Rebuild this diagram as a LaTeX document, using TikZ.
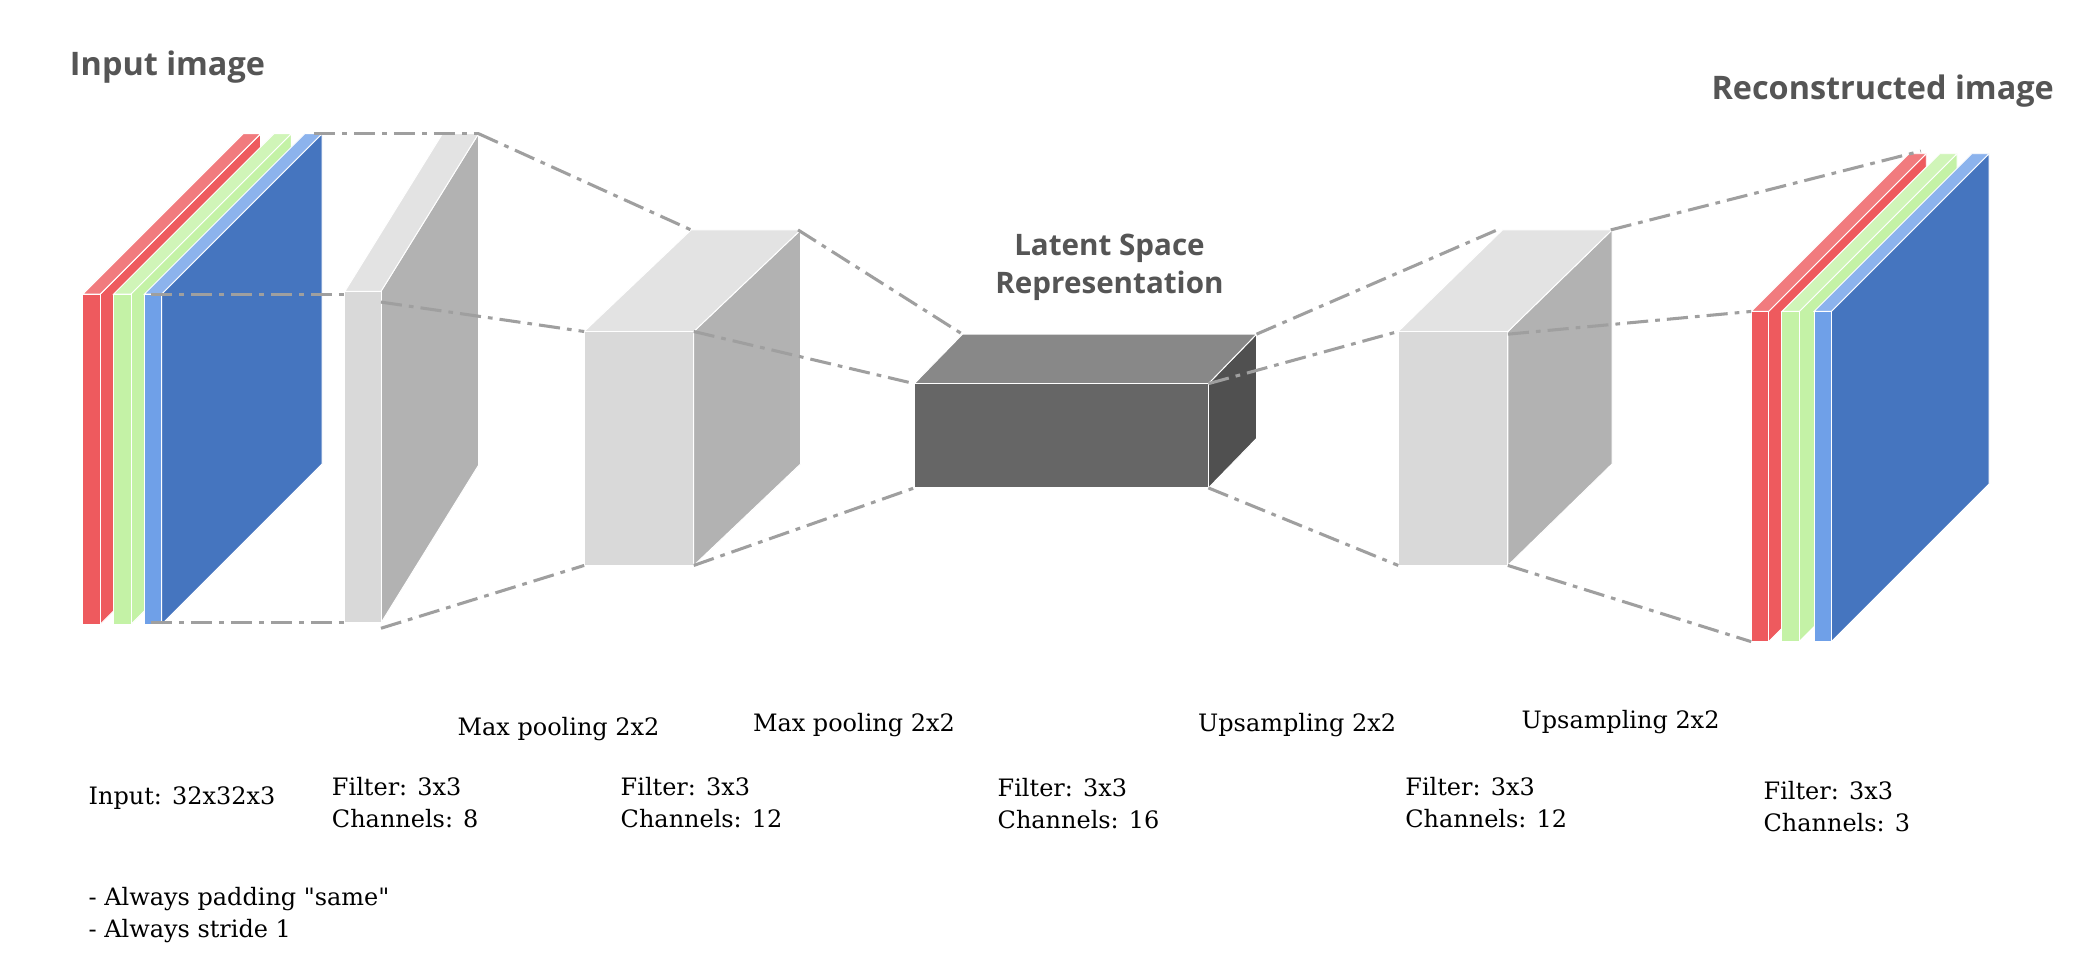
\documentclass[tikz,border=0pt]{standalone}
\usepackage{fontspec}
\setmainfont{DejaVu Serif}[Ligatures=TeXOff]
\newfontfamily\titlefont{Open Sans}
\definecolor{cred}{HTML}{EE5A5E}
\definecolor{cgreen}{HTML}{C4F2A6}
\definecolor{cblue}{HTML}{6FA0E8}
\definecolor{cbluedark}{HTML}{4575BF}
\definecolor{tgray}{HTML}{555555}
\definecolor{latfront}{HTML}{666666}
\definecolor{lattop}{HTML}{888888}
\definecolor{latside}{HTML}{505050}
\newcommand\myprism[9]{%
 \fill[#9,draw=white,line width=0.4pt] (#1+#3,#2) -- ++(#5,#6) -- ++(0,#4) -- ++(-#5,-#6) -- cycle;
 \fill[#8,draw=white,line width=0.4pt] (#1,#2) -- ++(#5,#6) -- ++(#3,0) -- ++(-#5,-#6) -- cycle;
 \fill[#7,draw=white,line width=0.4pt] (#1,#2) rectangle ++(#3,#4);
}
\tikzset{conn/.style={draw=gray!75,line width=1.3pt,dash pattern=on 9pt off 3pt on 2pt off 3pt},
 lbl/.style={font=\fontsize{10.2}{13.6}\selectfont,anchor=base west,inner sep=0pt,align=left},
 ttl/.style={font=\titlefont\bfseries\fontsize{13.8}{16}\selectfont,text=tgray,inner sep=0pt}}
\begin{document}
\begin{tikzpicture}[x=0.02cm,y=-0.02cm]
\useasboundingbox[fill=white] (0,0) rectangle (1568,723);
\myprism{62}{220}{13}{247}{120}{-120}{cred}{cred!80}{cred}
\myprism{85}{220}{13}{247}{120}{-120}{cgreen}{cgreen!80}{cgreen}
\myprism{108}{220}{13}{247}{120}{-120}{cblue}{cblue!80}{cbluedark}
\myprism{258}{218}{27}{248}{73}{-118}{gray!30}{gray!22}{gray!60}
\myprism{437}{248}{82}{175}{80}{-76}{gray!30}{gray!22}{gray!60}
\myprism{684}{287}{220}{78}{36}{-37}{latfront}{lattop}{latside}
\myprism{1046}{248}{82}{175}{78}{-76}{gray!30}{gray!22}{gray!60}
\myprism{1310}{233}{13}{247}{118}{-118}{cred}{cred!80}{cred}
\myprism{1333}{233}{13}{247}{118}{-118}{cgreen}{cgreen!80}{cgreen}
\myprism{1357}{233}{13}{247}{118}{-118}{cblue}{cblue!80}{cbluedark}
\coordinate (a1) at (235,100); \coordinate (a2) at (358,100);
\coordinate (b1) at (113,220); \coordinate (b2) at (258,220);
\coordinate (c1) at (113,466); \coordinate (c2) at (258,466);
\coordinate (d1) at (285,226); \coordinate (d2) at (437,248);
\coordinate (e1) at (285,470); \coordinate (e2) at (437,423);
\coordinate (f1) at (358,100); \coordinate (f2) at (517,172);
\coordinate (g1) at (597,172); \coordinate (g2) at (720,250);
\coordinate (h1) at (519,248); \coordinate (h2) at (684,287);
\coordinate (i1) at (519,423); \coordinate (i2) at (684,365);
\coordinate (j1) at (940,250); \coordinate (j2) at (1120,172);
\coordinate (k1) at (904,287); \coordinate (k2) at (1046,248);
\coordinate (l1) at (904,365); \coordinate (l2) at (1046,423);
\coordinate (m1) at (1205,172); \coordinate (m2) at (1437,113);
\coordinate (n1) at (1128,250); \coordinate (n2) at (1310,233);
\coordinate (o1) at (1128,423); \coordinate (o2) at (1310,480);
\foreach \p in {a,b,c,d,e,f,g,h,i,j,k,l,m,n,o} \draw[conn] (\p1) -- (\p2);
\node[ttl,anchor=west] (t1) at (52,50) {Input image};
\node[ttl,anchor=west] (t2) at (1280,68) {Reconstructed image};
\node[ttl,align=center,font=\titlefont\bfseries\fontsize{12.6}{16}\selectfont] (t3) at (830,200) {Latent Space\\Representation};
\node[lbl] (p1) at (342,550) {Max pooling 2x2};
\node[lbl] (p2) at (563,547) {Max pooling 2x2};
\node[lbl] (u1) at (896,547) {Upsampling 2x2};
\node[lbl] (u2) at (1138,545) {Upsampling 2x2};
\node[lbl] (in) at (66,602) {Input: 32x32x3};
\node[lbl] (f1) at (248,619) {Filter: 3x3\\Channels: 8};
\node[lbl] (f2) at (464,619) {Filter: 3x3\\Channels: 12};
\node[lbl] (f3) at (746,620) {Filter: 3x3\\Channels: 16};
\node[lbl] (f4) at (1051,619) {Filter: 3x3\\Channels: 12};
\node[lbl] (f5) at (1319,622) {Filter: 3x3\\Channels: 3};
\node[lbl] (nt) at (66,701) {- Always padding "same"\\- Always stride 1};
\end{tikzpicture}
\end{document}
